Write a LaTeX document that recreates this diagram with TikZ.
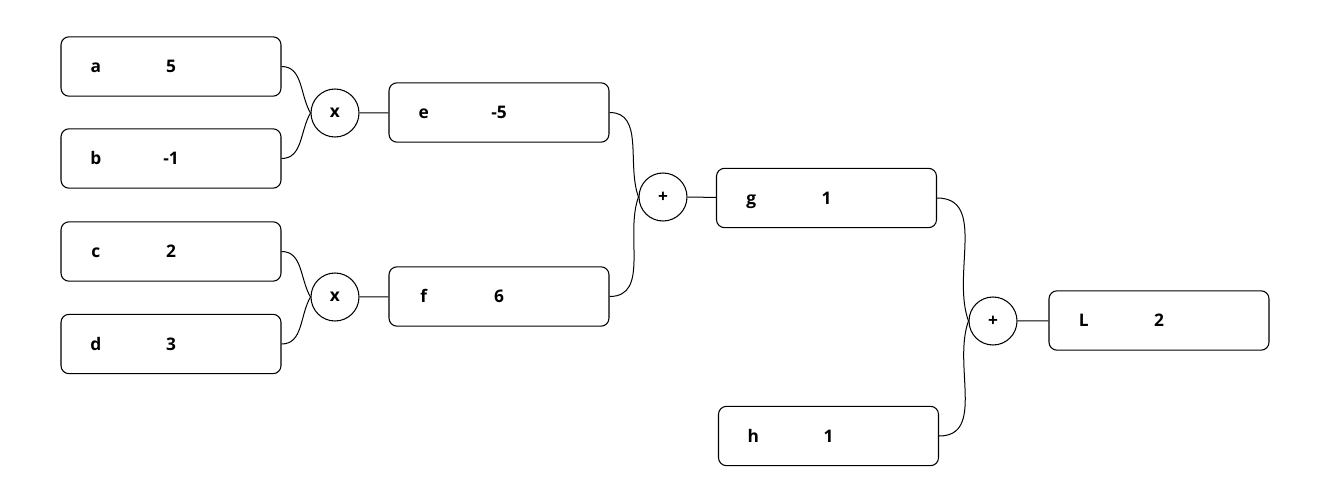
\documentclass[tikz,border=0pt]{standalone}
\usepackage{fontspec}
\setmainfont{Open Sans}
\begin{document}
\begin{tikzpicture}[x=0.75pt,y=-0.75pt,
    box/.style={draw,line width=0.8pt,rounded corners=6pt,minimum width=165pt,minimum height=44.5pt},
    op/.style={circle,draw,line width=0.8pt,minimum size=36pt,inner sep=0pt,font=\bfseries\fontsize{13}{15}\selectfont},
    txt/.style={font=\bfseries\fontsize{13}{15}\selectfont,text height=9.5pt,text depth=0pt}]
        \useasboundingbox (0,0) rectangle (1330,503);
        \begin{scope}[every node/.style={box}]
            \node (a) at (171,66.5) {};
            \node (b) at (171,158.5) {};
            \node (c) at (171,251.5) {};
            \node (d) at (171,344) {};
            \node (e) at (499,112.5) {};
            \node (f) at (499,296.5) {};
            \node (g) at (826.5,198) {};
            \node (h) at (828.5,436) {};
            \node (L) at (1159,320.5) {};
        \end{scope}
        \begin{scope}[every node/.style={op}]
            \node (m1) at (335,113) {x};
            \node (m2) at (335,297) {x};
            \node (p1) at (663,197) {+};
            \node (p2) at (993,321) {+};
        \end{scope}
        \begin{scope}[every node/.style={txt}]
            \node at ([xshift=26.5pt]a.west) {a}; \node at (a) {5};
            \node at ([xshift=26.5pt]b.west) {b}; \node at (b) {-1};
            \node at ([xshift=26.5pt]c.west) {c}; \node at (c) {2};
            \node at ([xshift=26.5pt]d.west) {d}; \node at (d) {3};
            \node at ([xshift=26.5pt]e.west) {e}; \node at (e) {-5};
            \node at ([xshift=26.5pt]f.west) {f}; \node at (f) {6};
            \node at ([xshift=26.5pt]g.west) {g}; \node at (g) {1};
            \node at ([xshift=26.5pt]h.west) {h}; \node at (h) {1};
            \node at ([xshift=26.5pt]L.west) {L}; \node at (L) {2};
        \end{scope}
        \begin{scope}[every path/.style={line width=0.75pt}]
            \path [draw] (a.east) to[out=0,in=120] (m1.west);
            \path [draw] (b.east) to[out=0,in=240] (m1.west);
            \path [draw] (c.east) to[out=0,in=120] (m2.west);
            \path [draw] (d.east) to[out=0,in=240] (m2.west);
            \path [draw] (e.east) to[out=0,in=110] (p1.west);
            \path [draw] (f.east) to[out=0,in=250] (p1.west);
            \path [draw] (g.east) to[out=0,in=110] (p2.west);
            \path [draw] (h.east) to[out=0,in=250] (p2.west);
            \path [draw] (m1) -- (e);
            \path [draw] (m2) -- (f);
            \path [draw] (p1) -- (g);
            \path [draw] (p2) -- (L);
        \end{scope}
        \end{tikzpicture}
\end{document}
